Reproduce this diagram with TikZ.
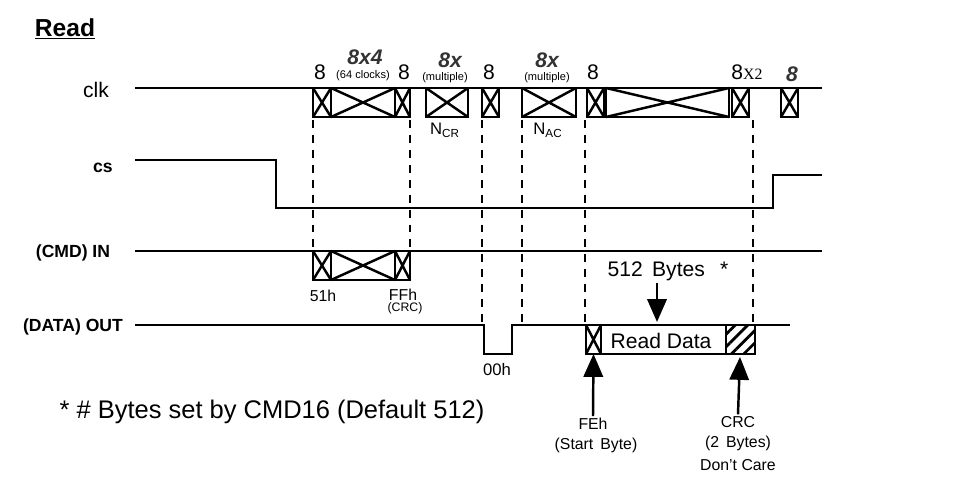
\documentclass[tikz,border=0pt]{standalone}
\usepackage{fontspec}
\setmainfont{Liberation Sans}
\usetikzlibrary{arrows.meta,patterns.meta}

\tikzset{
  sig/.style={line width=1.2pt},
  guide/.style={line width=1.3pt,dash pattern=on 4.5pt off 4pt},
  big/.style={font=\fontsize{12}{14}\selectfont},
  lbl/.style={font=\fontsize{9.5}{11}\selectfont},
  sml/.style={font=\fontsize{9}{10}\selectfont},
  tiny/.style={font=\fontsize{6.3}{7}\selectfont},
  ital/.style={font=\fontsize{12}{13}\selectfont\bfseries\itshape,text=gray!40!black},
  pt/.style={-{Triangle[length=13pt,width=11pt]},line width=1.4pt}
}
% crossed box from x=#1 to x=#2, top at y=#3
\newcommand{\xcell}[4]{
  \draw[line width=1.6pt] (#1,#3) rectangle (#2,#3+29);
  \draw[line width=1.4pt] (#1,#3) -- (#2,#3+29) (#1,#3+29) -- (#2,#3);
  \coordinate (#4) at ({(#1+#2)/2},#3+29);
}

\begin{document}
\begin{tikzpicture}[x=0.02cm,y=-0.02cm]
\useasboundingbox (0,0) rectangle (980,489);

% title and signal names
\node[font=\fontsize{14}{16}\selectfont\bfseries] (title) at (65,29) {\underline{Read}};
\node[big] (clk) at (96,90) {clk};
\node[font=\fontsize{10}{11}\selectfont\bfseries] (cs) at (103,168) {cs};
\node[font=\fontsize{10}{11}\selectfont\bfseries] (cmdin) at (73,253) {(CMD) IN};
\node[font=\fontsize{10}{11}\selectfont\bfseries] (dout) at (73,327) {(DATA) OUT};

% clk
\draw[sig] (135,88) -- (822,88);
\xcell{313}{331}{88}{c1}
\xcell{331}{395}{88}{c2}
\xcell{395}{410}{88}{c3}
\xcell{426}{468}{88}{ncr}
\xcell{482}{499}{88}{c5}
\xcell{522}{576}{88}{nac}
\xcell{587}{604}{88}{c7}
\xcell{606}{729}{88}{c8}
\xcell{732}{749}{88}{c9}
\xcell{781}{798}{88}{c10}
\node[big] at (320,72) {8};
\node[ital] at (365,57) {8x4};
\node[tiny] at (363,76) {(64 clocks)};
\node[big] at (404,72) {8};
\node[ital] at (450,60) {8x};
\node[tiny] at (445,78) {(multiple)};
\node[big] at (489,72) {8};
\node[ital] at (547,60) {8x};
\node[tiny] at (547,78) {(multiple)};
\node[big] at (593,72) {8};
\node[big] at (747,72) {8\fontspec{Liberation Serif}\fontsize{9}{10}\selectfont X2};
\node[ital] at (792,74) {8};
\node[lbl] at (445,130) {N\textsubscript{CR}};
\node[lbl] at (548,130) {N\textsubscript{AC}};

% cs
\draw[sig] (135,160) -- (276,160) -- (276,208) -- (773,208) -- (773,175) -- (822,175);

% cmd in
\draw[sig] (135,251) -- (822,251);
\xcell{313}{331}{251}{m1}
\xcell{331}{395}{251}{m2}
\xcell{395}{410}{251}{m3}
\node[sml] at (323,296) {51h};
\node[sml] at (403,295) {FFh};
\node[tiny,font=\fontsize{7}{8}\selectfont] at (405,308) {(CRC)};

% data out
\draw[sig] (135,325) -- (484,325) -- (484,354) -- (512,354) -- (512,325) -- (790,325);
\xcell{586}{601}{325}{feh}
\draw[line width=1.6pt] (601,325) rectangle (726,354);
\node[big] (rd) at (661,341) {Read Data};
\fill[pattern={Lines[angle=45,distance=5pt,line width=1.6pt]}] (726,325) rectangle (755,354);
\draw[line width=1.6pt] (726,325) rectangle (755,354);
\coordinate (crc) at (740,357);
\coordinate (rdtop) at (657,322);
\node[lbl] at (497,370) {00h};

% guides
\draw[guide] (313,120) -- (313,251);
\draw[guide] (410,120) -- (410,251);
\draw[guide] (482,120) -- (482,325);
\draw[guide] (522,120) -- (522,325);
\draw[guide] (585,120) -- (585,325);
\draw[guide] (753,120) -- (753,325);

% notes
\node[big] (nb) at (668,271) {512\, Bytes \, *};
\draw[pt] (657,283) -- (rdtop);
\node[sml,inner sep=1pt] (fe) at (593,424) {FEh};
\node[sml] at (596,445) {(Start\, Byte)};
\draw[pt] (fe.north) -- (feh);
\node[sml,inner sep=1pt] (cr) at (738,422) {CRC};
\node[sml] at (738,443) {(2\, Bytes)};
\node[sml] at (738,465) {Don't Care};
\draw[pt] (cr.north) -- (crc);
\node[font=\fontsize{14.5}{16}\selectfont] (star) at (272,412) {* \# Bytes set by CMD16 (Default 512)};
\end{tikzpicture}
\end{document}
